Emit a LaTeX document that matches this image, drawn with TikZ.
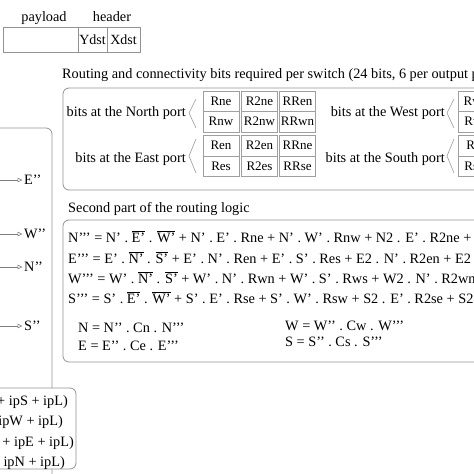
\documentclass[tikz,border=0pt]{standalone}
\usepackage{fontspec}
\setmainfont{Liberation Serif}
\usetikzlibrary{arrows.meta}
\newcommand\ovl[1]{$\overline{\mbox{#1}}$}
\begin{document}
\begin{tikzpicture}[x=1pt,y=-1pt,
  txt/.style={inner sep=0pt, font=\fontsize{14.3}{16}\selectfont},
  pk/.style={draw=gray!85, inner sep=0pt, minimum height=25pt, font=\fontsize{14}{16}\selectfont},
  cell/.style={draw=gray!75, inner sep=0pt, minimum width=36pt, minimum height=20.5pt, font=\fontsize{13}{15}\selectfont},
  frame/.style={draw=gray!85, rounded corners=6pt, line width=0.8pt},
  brk/.style={draw=gray!80, line width=0.6pt},
  arr/.style={draw=gray, line width=0.6pt, -{Triangle[open,length=5pt,width=4.5pt]}, shorten >=1.5pt}]
\useasboundingbox (0,0) rectangle (474,474);
\clip (0,0) rectangle (474,474);

% packet
\node[txt, anchor=base] (payload) at (44,21) {payload};
\node[txt, anchor=base] (header) at (112,21) {header};
\node[pk, minimum width=75pt] (pl) at (40.5,39.5) {};
\node[pk, minimum width=29pt] (yd) at (92.5,39.5) {Ydst};
\node[pk, minimum width=33pt] (xd) at (123.5,39.5) {Xdst};

% routing bits
\node[txt, anchor=base west] (title1) at (62,78) {Routing and connectivity bits required per switch (24 bits, 6 per output port)};
\draw[frame] (63,88) rectangle (520,190);

\node[txt, anchor=base east] (nlbl) at (186,116) {bits at the North port};
\node[txt, anchor=base east] (elbl) at (186,162) {bits at the East port};
\node[txt, anchor=base east] (wlbl) at (445,116) {bits at the West port};
\node[txt, anchor=base east] (slbl) at (445,162) {bits at the South port};
\draw[brk] (196,99) -- (189,113) -- (196,128);
\draw[brk] (196,139) -- (189,156) -- (196,173);
\draw[brk] (454,99) -- (447,113) -- (454,128);
\draw[brk] (454,139) -- (447,156) -- (454,173);

\node[cell] (rne) at (221,101.25) {Rne};
\node[cell] (rnw) at (221,121.75) {Rnw};
\node[cell] (r2ne) at (259.5,101.25) {R2ne};
\node[cell] (r2nw) at (259.5,121.75) {R2nw};
\node[cell] (rren) at (297.5,101.25) {RRen};
\node[cell] (rrwn) at (297.5,121.75) {RRwn};
\node[cell] (ren) at (221,145.75) {Ren};
\node[cell] (res) at (221,166.25) {Res};
\node[cell] (r2en) at (259.5,145.75) {R2en};
\node[cell] (r2es) at (259.5,166.25) {R2es};
\node[cell] (rrne) at (297.5,145.75) {RRne};
\node[cell] (rrse) at (297.5,166.25) {RRse};
\node[cell] (rwn) at (476,101.25) {Rwn};
\node[cell] (rws) at (476,121.75) {Rws};
\node[cell] (rse) at (476,145.75) {Rse};
\node[cell] (rsw) at (476,166.25) {Rsw};

% second part
\node[txt, anchor=base west] (title2) at (68,212) {Second part of the routing logic};
\draw[frame] (63,220) rectangle (520,362);
\node[txt, anchor=base west] (eqn) at (68,242) {N’’’ = N’ . \ovl{E’} . \ovl{W’} + N’ . E’ . Rne + N’ . W’ . Rnw + N2 . E’ . R2ne + N2 . W’ . R2nw};
\node[txt, anchor=base west] (eqe) at (68,263) {E’’’ = E’ . \ovl{N’} . \ovl{S’} + E’ . N’ . Ren + E’ . S’ . Res + E2 . N’ . R2en + E2 . S’ . R2es};
\node[txt, anchor=base west] (eqw) at (68,283) {W’’’ = W’ . \ovl{N’} . \ovl{S’} + W’ . N’ . Rwn + W’ . S’ . Rws + W2 . N’ . R2wn + W2 . S’ . R2ws};
\node[txt, anchor=base west] (eqs) at (68,303) {S’’’ = S’ . \ovl{E’} . \ovl{W’} + S’ . E’ . Rse + S’ . W’ . Rsw + S2 . E’ . R2se + S2 . W’ . R2sw};
\node[txt, anchor=base west] (defn) at (78,332) {N = N’’ . Cn . N’’’};
\node[txt, anchor=base west] (defe) at (78,350) {E = E’’ . Ce . E’’’};
\node[txt, anchor=base west] (defw) at (285,330) {W = W’’ . Cw . W’’’};
\node[txt, anchor=base west] (defs) at (285,346) {S = S’’ . Cs . S’’’};

% left part
\draw[frame] (-20,128) rectangle (52,520);
\coordinate (ae) at (-2,180);
\coordinate (aw) at (-2,234);
\coordinate (an) at (-2,267);
\coordinate (as) at (-2,326);
\node[txt, anchor=west] (E2) at (24,180) {E’’};
\node[txt, anchor=west] (W2) at (24,234) {W’’};
\node[txt, anchor=west] (N2) at (24,267) {N’’};
\node[txt, anchor=west] (S2) at (24,326) {S’’};
\draw[arr] (ae) -- (E2.west);
\draw[arr] (aw) -- (W2.west);
\draw[arr] (an) -- (N2.west);
\draw[arr] (as) -- (S2.west);

\draw[frame, fill=white] (-20,388) rectangle (76,469);
\node[txt, anchor=base east] (ip1) at (68,405) {+ ipS + ipL)};
\node[txt, anchor=base east] (ip2) at (63,425) {+ ipW + ipL)};
\node[txt, anchor=base east] (ip3) at (74,446) {ipW + ipE + ipL)};
\node[txt, anchor=base east] (ip4) at (65,466) {+ ipN + ipL)};
\end{tikzpicture}
\end{document}
